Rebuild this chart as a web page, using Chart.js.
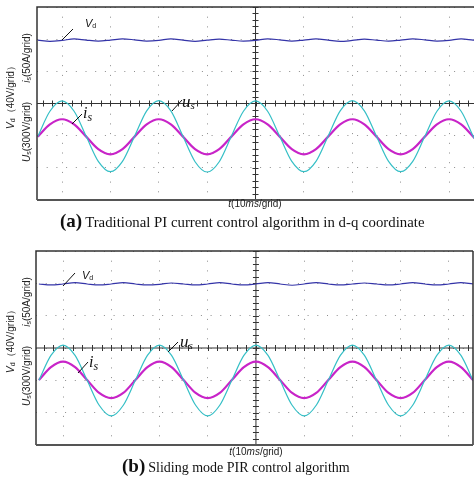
<!DOCTYPE html>
<html>
<head>
<meta charset="utf-8">
<script src="https://cdn.jsdelivr.net/npm/chart.js@4.4.1/dist/chart.umd.min.js"></script>
<style>
  html, body { margin: 0; padding: 0; background: #fff; }
  body { width: 474px; height: 480px; overflow: hidden; position: relative; }
  canvas { position: absolute; }
  #graficoA { left: 35px; top: 5px; }
  #graficoB { left: 34px; top: 249px; }
  svg { position: absolute; left: 0; top: 0; }
  .sans { font-family: "Liberation Sans", Arial, sans-serif; }
  .serif { font-family: "Liberation Serif", "Times New Roman", serif; }
</style>
</head>
<body>
<canvas id="graficoA" width="450" height="197"></canvas>
<canvas id="graficoB" width="442" height="198"></canvas>

<svg width="474" height="480">
  <!-- leader lines -->
  <g stroke="#111" stroke-width="1">
    <line x1="62" y1="40" x2="73" y2="29"/>
    <line x1="172" y1="111" x2="182" y2="100"/>
    <line x1="72" y1="124" x2="82" y2="114"/>
    <line x1="63" y1="286" x2="75" y2="273"/>
    <line x1="168" y1="352" x2="178" y2="342"/>
    <line x1="78" y1="373" x2="88" y2="362"/>
  </g>

  <!-- (a) labels -->
  <text class="sans" x="85" y="27" font-size="11" font-style="italic" fill="#111">V<tspan font-size="7" dy="1" font-style="normal">d</tspan></text>
  <text class="serif" x="182" y="107" font-size="17" font-style="italic" fill="#111">u<tspan font-size="11" dy="2">s</tspan></text>
  <text class="serif" x="83" y="118" font-size="16" font-style="italic" fill="#111">i<tspan font-size="12" dy="3">s</tspan></text>

  <!-- (b) labels -->
  <text class="sans" x="82" y="279" font-size="11" font-style="italic" fill="#111">V<tspan font-size="7" dy="1" font-style="normal">d</tspan></text>
  <text class="serif" x="180" y="347" font-size="17" font-style="italic" fill="#111">u<tspan font-size="11" dy="2">s</tspan></text>
  <text class="serif" x="89" y="367" font-size="16" font-style="italic" fill="#111">i<tspan font-size="12" dy="3">s</tspan></text>

  <!-- y titles (a) -->
  <g class="sans" font-size="10" fill="#222" text-anchor="middle">
    <text transform="translate(13.5,95) rotate(-90)"><tspan font-style="italic">V</tspan><tspan font-size="7" dy="1.5">d</tspan><tspan dy="-1.5">（40V/grid）</tspan></text>
    <text transform="translate(29.5,58) rotate(-90)"><tspan font-style="italic">i</tspan><tspan font-size="7" dy="1.5">s</tspan><tspan dy="-1.5">(50A/grid)</tspan></text>
    <text transform="translate(29.5,132) rotate(-90)"><tspan font-style="italic">U</tspan><tspan font-size="7" dy="1.5">s</tspan><tspan dy="-1.5">(300V/grid)</tspan></text>
  </g>
  <!-- y titles (b) -->
  <g class="sans" font-size="10" fill="#222" text-anchor="middle">
    <text transform="translate(13.5,339) rotate(-90)"><tspan font-style="italic">V</tspan><tspan font-size="7" dy="1.5">d</tspan><tspan dy="-1.5">（40V/grid）</tspan></text>
    <text transform="translate(29.5,302) rotate(-90)"><tspan font-style="italic">i</tspan><tspan font-size="7" dy="1.5">s</tspan><tspan dy="-1.5">(50A/grid)</tspan></text>
    <text transform="translate(29.5,376) rotate(-90)"><tspan font-style="italic">U</tspan><tspan font-size="7" dy="1.5">s</tspan><tspan dy="-1.5">(300V/grid)</tspan></text>
  </g>

  <!-- x titles -->
  <text class="sans" x="255" y="207" font-size="10" fill="#222" text-anchor="middle"><tspan font-style="italic">t</tspan>(10<tspan font-style="italic">ms</tspan>/grid)</text>
  <text class="sans" x="256" y="455" font-size="10" fill="#222" text-anchor="middle"><tspan font-style="italic">t</tspan>(10<tspan font-style="italic">ms</tspan>/grid)</text>

  <!-- captions -->
  <text class="serif" x="60" y="227" fill="#111"><tspan font-size="19" font-weight="bold">(a)</tspan><tspan font-size="14.8" dx="3">Traditional PI current control algorithm in d-q coordinate</tspan></text>
  <text class="serif" x="122" y="472" fill="#111"><tspan font-size="19" font-weight="bold">(b)</tspan><tspan font-size="14" dx="3">Sliding mode PIR control algorithm</tspan></text>
</svg>

<script>
//  time axis (ms), one sample every 2.5 ms
const tempo = [-5, -2.5, 0, 2.5, 5, 7.5, 10, 12.5, 15, 17.5, 20, 22.5, 25, 27.5, 30, 32.5,
  35, 37.5, 40, 42.5, 45, 47.5, 50, 52.5, 55, 57.5, 60, 62.5, 65, 67.5, 70, 72.5,
  75, 77.5, 80, 82.5, 85, 87.5];

//  values in screen divisions (grid units)
//  (a) traditional PI
const vdA = [1.97, 1.93, 1.96, 2.01, 1.97, 1.94, 1.97, 2.01, 1.98, 1.94, 1.96, 2.01, 1.97, 1.93, 1.97, 2.00,
  1.97, 1.94, 1.96, 2.01, 1.98, 1.94, 1.97, 2.01, 1.97, 1.93, 1.96, 2.00, 1.97, 1.94, 1.97, 2.01,
  1.98, 1.94, 1.96, 2.01, 1.97, 1.94];
const usA = [-1.02, -0.24, 0.08, -0.24, -1.02, -1.80, -2.12, -1.80, -1.02, -0.23, 0.09, -0.23, -1.02, -1.81, -2.13, -1.81,
  -1.02, -0.24, 0.08, -0.24, -1.02, -1.80, -2.12, -1.80, -1.02, -0.23, 0.09, -0.23, -1.02, -1.80, -2.12, -1.80,
  -1.02, -0.24, 0.08, -0.24, -1.02, -1.80];
const isA = [-1.03, -0.65, -0.49, -0.65, -1.03, -1.42, -1.58, -1.42, -1.03, -0.65, -0.49, -0.65, -1.03, -1.42, -1.58, -1.42,
  -1.03, -0.65, -0.49, -0.65, -1.03, -1.42, -1.58, -1.42, -1.03, -0.65, -0.49, -0.65, -1.03, -1.42, -1.58, -1.42,
  -1.03, -0.65, -0.49, -0.65, -1.03, -1.42];

//  (b) sliding mode PIR
const vdB = [1.98, 1.95, 1.98, 2.02, 1.98, 1.95, 1.98, 2.02, 1.98, 1.95, 1.97, 2.01, 1.98, 1.95, 1.98, 2.02,
  1.98, 1.95, 1.98, 2.02, 1.98, 1.94, 1.98, 2.02, 1.98, 1.95, 1.98, 2.01, 1.98, 1.95, 1.98, 2.02,
  1.98, 1.95, 1.98, 2.02, 1.98, 1.95];
const usB = [-1.00, -0.23, 0.09, -0.23, -1.00, -1.77, -2.10, -1.77, -1.00, -0.23, 0.09, -0.23, -1.00, -1.77, -2.10, -1.77,
  -1.00, -0.23, 0.09, -0.23, -1.00, -1.77, -2.10, -1.77, -1.00, -0.23, 0.09, -0.23, -1.00, -1.77, -2.10, -1.77,
  -1.00, -0.23, 0.09, -0.23, -1.00, -1.77];
const isB = [-0.99, -0.59, -0.42, -0.59, -0.99, -1.39, -1.55, -1.39, -0.99, -0.59, -0.42, -0.59, -0.99, -1.39, -1.55, -1.39,
  -0.99, -0.59, -0.42, -0.59, -0.99, -1.39, -1.55, -1.39, -0.99, -0.59, -0.42, -0.59, -0.99, -1.39, -1.55, -1.39,
  -0.99, -0.59, -0.42, -0.59, -0.99, -1.39];

function pontos(valores) {
  return tempo.map((t, i) => ({ x: t, y: valores[i] }));
}

//  frame + centre axes with minor ticks, like the scope screen
const tela = {
  id: "tela",
  beforeDatasetsDraw(chart) {
    const { ctx, chartArea: a, scales: { x, y } } = chart;
    const y0 = y.getPixelForValue(0);
    const x0 = x.getPixelForValue(40);
    ctx.save();
    ctx.strokeStyle = "#333";
    ctx.lineWidth = 1;
    ctx.beginPath();
    ctx.moveTo(a.left, y0); ctx.lineTo(a.right, y0);
    ctx.moveTo(x0, a.top); ctx.lineTo(x0, a.bottom);
    for (let t = -4; t <= 90; t += 2) {
      const px = Math.round(x.getPixelForValue(t)) + 0.5;
      if (px < a.left || px > a.right) continue;
      ctx.moveTo(px, y0 - 3); ctx.lineTo(px, y0 + 3);
    }
    for (let v = -3; v <= 3.001; v += 0.2) {
      const py = Math.round(y.getPixelForValue(v)) + 0.5;
      ctx.moveTo(x0 - 3, py); ctx.lineTo(x0 + 3, py);
    }
    ctx.stroke();
    ctx.restore();
  },
  afterDraw(chart, args, opts) {
    const { ctx, chartArea: a } = chart;
    ctx.save();
    ctx.strokeStyle = "#333";
    ctx.lineWidth = 1.5;
    ctx.beginPath();
    ctx.moveTo(a.left, a.bottom); ctx.lineTo(a.left, a.top); ctx.lineTo(a.right, a.top);
    if (opts.direita) { ctx.moveTo(a.right, a.top); ctx.lineTo(a.right, a.bottom); }
    ctx.stroke();
    ctx.strokeStyle = "#555";
    ctx.lineWidth = 2.2;
    ctx.beginPath();
    ctx.moveTo(a.left, a.bottom); ctx.lineTo(a.right, a.bottom);
    ctx.stroke();
    ctx.restore();
  }
};

function criarGrafico(id, vd, us, is, xMin, xMax, padding, direita) {
  return new Chart(document.getElementById(id), {
    type: "line",
    data: {
      datasets: [
        { data: pontos(vd), borderColor: "#3434a8", borderWidth: 1.2 },
        { data: pontos(us), borderColor: "#35bfc6", borderWidth: 1.2 },
        { data: pontos(is), borderColor: "#c824c8", borderWidth: 2.2 },
        { data: pontos(is), borderColor: "#7d0c7d", borderWidth: 1, borderDash: [1, 2.5] }
      ]
    },
    options: {
      responsive: false,
      animation: false,
      events: [],
      layout: { padding: padding },
      elements: {
        point: { radius: 0 },
        line: { cubicInterpolationMode: "monotone", fill: false }
      },
      plugins: {
        legend: { display: false },
        tooltip: { enabled: false },
        tela: { direita: direita }
      },
      scales: {
        x: {
          type: "linear",
          min: xMin,
          max: xMax,
          ticks: { display: false, stepSize: 10, includeBounds: false },
          grid: { color: "#8c8c8c", lineWidth: 1, drawTicks: false },
          border: { display: false, dash: [1, 8.7] }
        },
        y: {
          min: -3,
          max: 3,
          ticks: { display: false, stepSize: 1, includeBounds: false },
          grid: { color: "#8c8c8c", lineWidth: 1, drawTicks: false },
          border: { display: false, dash: [1, 8.7] }
        }
      }
    },
    plugins: [tela]
  });
}

//  inicia
criarGrafico("graficoA", vdA, usA, isA, -5.17, 86.4, { left: 2, top: 2, right: 5, bottom: 2 }, false);
criarGrafico("graficoB", vdB, usB, isB, -5.6, 85.0, { left: 2, top: 2, right: 3, bottom: 2 }, true);
</script>
</body>
</html>
